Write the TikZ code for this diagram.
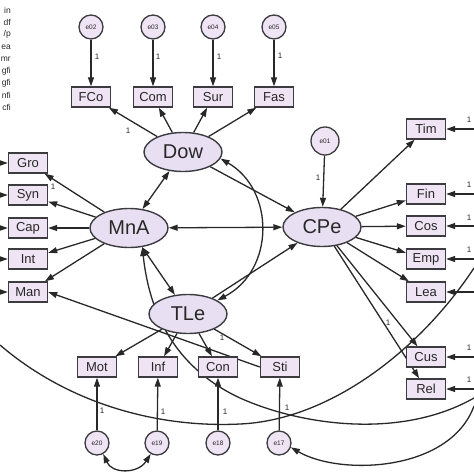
\documentclass[tikz,border=0pt]{standalone}
\usepackage{fontspec}
\setmainfont{Liberation Sans}
\usetikzlibrary{shapes.geometric,arrows.meta,backgrounds}
\definecolor{boxfill}{RGB}{238,228,244}
\definecolor{latfill}{RGB}{232,224,242}
\definecolor{edge}{RGB}{60,60,64}
\definecolor{ink}{RGB}{40,40,40}

\begin{document}
\begin{tikzpicture}[x=1pt, y=-1pt,
    obs/.style={rectangle,draw=edge,fill=boxfill,line width=1.4pt,minimum width=39pt,minimum height=20pt,inner sep=0pt,font=\fontsize{13}{13}\selectfont,text=ink},
    lat/.style={ellipse,draw=edge,fill=latfill,line width=1.4pt,minimum width=78pt,minimum height=39pt,inner sep=0pt,font=\fontsize{20}{20}\selectfont,text=ink},
    err/.style={circle,draw=edge,fill=boxfill,line width=1.3pt,minimum size=24pt,inner sep=0pt,font=\fontsize{6.5}{6.5}\selectfont,text=ink},
    reg/.style={draw=ink,line width=1.3pt,-{Triangle[length=9pt,width=6pt]}},
    cov/.style={draw=ink,line width=1.3pt,{Triangle[length=9pt,width=6pt]}-{Triangle[length=9pt,width=6pt]}},
    one/.style={font=\fontsize{8}{8}\selectfont,text=ink,inner sep=0pt},
    fit/.style={font=\fontsize{8.5}{8.5}\selectfont,text=ink,inner sep=0pt,anchor=east},
]
        \useasboundingbox (0,0) rectangle (474,474);

        % Fit indices, cut off at the left edge
        \node[fit] (f1) at (11,10) {in};
        \node[fit] (f2) at (11,22) {df};
        \node[fit] (f3) at (11,34) {/p};
        \node[fit] (f4) at (11,47) {ea};
        \node[fit] (f5) at (11,59) {mr};
        \node[fit] (f6) at (11,71) {gfi};
        \node[fit] (f7) at (11,83) {gfi};
        \node[fit] (f8) at (11,95) {nfi};
        \node[fit] (f9) at (11,107) {cfi};

        % Define the off-page ends
        \coordinate (inGro) at (0,163);
        \coordinate (inSyn) at (0,195);
        \coordinate (inCap) at (0,228);
        \coordinate (inInt) at (0,259);
        \coordinate (inMan) at (0,292);
        \coordinate (inTim) at (474,129);
        \coordinate (inFin) at (474,194);
        \coordinate (inCos) at (474,226);
        \coordinate (inEmp) at (474,259);
        \coordinate (inLea) at (474,292);
        \coordinate (inCus) at (474,357);
        \coordinate (inRel) at (474,389);
        \coordinate (offL) at (0,345);
        \coordinate (offR1) at (474,268);
        \coordinate (offR2) at (474,398);
        \coordinate (offR3) at (474,406);
        \coordinate (midA) at (240,424);
        \coordinate (midB) at (240,398);

        % Latent variables
        \node[lat] (Dow) at (183,152) {Dow};
        \node[lat] (MnA) at (129,228) {MnA};
        \node[lat] (CPe) at (322,227) {CPe};
        \node[lat] (TLe) at (188,314) {TLe};

        % Observed variables
        \node[obs] (FCo) at (91,97) {FCo};
        \node[obs] (Com) at (153,97) {Com};
        \node[obs] (Sur) at (213,97) {Sur};
        \node[obs] (Fas) at (274,97) {Fas};

        \node[obs] (Gro) at (28,163) {Gro};
        \node[obs] (Syn) at (28,195) {Syn};
        \node[obs] (Cap) at (28,228) {Cap};
        \node[obs] (Int) at (28,259) {Int};
        \node[obs] (Man) at (28,292) {Man};

        \node[obs] (Tim) at (426,129) {Tim};
        \node[obs] (Fin) at (426,194) {Fin};
        \node[obs] (Cos) at (426,226) {Cos};
        \node[obs] (Emp) at (426,259) {Emp};
        \node[obs] (Lea) at (426,292) {Lea};
        \node[obs] (Cus) at (426,357) {Cus};
        \node[obs] (Rel) at (426,389) {Rel};

        \node[obs] (Mot) at (97,367) {Mot};
        \node[obs] (Inf) at (158,367) {Inf};
        \node[obs] (Con) at (218,367) {Con};
        \node[obs] (Sti) at (280,367) {Sti};

        % Error terms
        \node[err] (e02) at (91,27) {e02};
        \node[err] (e03) at (153,27) {e03};
        \node[err] (e04) at (213,27) {e04};
        \node[err] (e05) at (274,27) {e05};
        \node[err, minimum size=28pt] (e01) at (325,141) {e01};
        \node[err] (e20) at (97,443) {e20};
        \node[err] (e19) at (157,443) {e19};
        \node[err] (e18) at (218,443) {e18};
        \node[err] (e17) at (279,443) {e17};

        \begin{pgfonlayer}{background}
        % Long curves running off the page
        \draw[draw=ink, line width=1.3pt] (offL) .. controls (70,405) and (160,428) .. (midA) .. controls (330,420) and (420,350) .. (offR1);
        \draw[reg] (offR2) .. controls (400,440) and (300,425) .. (midB) .. controls (180,370) and (150,320) .. (MnA.-55);
        \draw[reg] (offR3) .. controls (450,472) and (340,476) .. (e17.-20);
        \draw[reg] (Sti.west) -- (Man.east);

        % Error terms to indicators
        \draw[reg] (e02) -- (FCo);
        \draw[reg] (e03) -- (Com);
        \draw[reg] (e04) -- (Sur);
        \draw[reg] (e05) -- (Fas);
        \draw[reg] (e01) -- (CPe);
        \draw[reg] (e20) -- (Mot);
        \draw[reg] (e19) -- (Inf);
        \draw[reg] (e18) -- (Con);
        \draw[reg] (e17) -- (Sti);
        \draw[cov] (e20.-60) .. controls (112,474) and (138,474) .. (e19.-120);

        % Loadings
        \draw[reg] (Dow) -- (FCo);
        \draw[reg] (Dow) -- (Com);
        \draw[reg] (Dow) -- (Sur);
        \draw[reg] (Dow) -- (Fas);
        \draw[reg] (MnA) -- (Gro);
        \draw[reg] (MnA) -- (Syn);
        \draw[reg] (MnA) -- (Cap);
        \draw[reg] (MnA) -- (Int);
        \draw[reg] (MnA) -- (Man);
        \draw[reg] (CPe) -- (Tim);
        \draw[reg] (CPe) -- (Fin);
        \draw[reg] (CPe) -- (Cos);
        \draw[reg] (CPe) -- (Emp);
        \draw[reg] (CPe) -- (Lea);
        \draw[reg] (CPe) -- (Cus);
        \draw[reg] (CPe) -- (Rel);
        \draw[reg] (TLe) -- (Mot);
        \draw[reg] (TLe) -- (Inf);
        \draw[reg] (TLe) -- (Con);
        \draw[reg] (TLe) -- (Sti);

        % Structural paths
        \draw[cov] (Dow) -- (MnA);
        \draw[cov] (MnA) -- (CPe);
        \draw[cov] (MnA) -- (TLe);
        \draw[reg] (Dow) -- (CPe);
        \draw[reg] (TLe) -- (CPe);
        \draw[cov] (Dow.-10) .. controls (275,190) and (275,270) .. (TLe.25);

        % Stubs from the page edges
        \draw[reg] (inGro) -- (Gro);
        \draw[reg] (inSyn) -- (Syn);
        \draw[reg] (inCap) -- (Cap);
        \draw[reg] (inInt) -- (Int);
        \draw[reg] (inMan) -- (Man);
        \draw[reg] (inTim) -- (Tim);
        \draw[reg] (inFin) -- (Fin);
        \draw[reg] (inCos) -- (Cos);
        \draw[reg] (inEmp) -- (Emp);
        \draw[reg] (inLea) -- (Lea);
        \draw[reg] (inCus) -- (Cus);
        \draw[reg] (inRel) -- (Rel);
        \end{pgfonlayer}

        % Fixed weights
        \node[one] (w02) at (97,57) {1};
        \node[one] (w03) at (158,57) {1};
        \node[one] (w04) at (219,57) {1};
        \node[one] (w05) at (280,56) {1};
        \node[one] (wFCo) at (128,131) {1};
        \node[one] (wSyn) at (53,187) {1};
        \node[one] (w01) at (318,178) {1};
        \node[one] (wCon) at (222,338) {1};
        \node[one] (wCus) at (388,323) {1};
        \node[one] (w20) at (102,411) {1};
        \node[one] (w19) at (163,412) {1};
        \node[one] (w18) at (225,412) {1};
        \node[one] (w17) at (287,408) {1};
        \node[one] (wTim) at (469,120) {1};
        \node[one] (wFin) at (469,185) {1};
        \node[one] (wCos) at (469,218) {1};
        \node[one] (wEmp) at (469,250) {1};
        \node[one] (wCusR) at (469,348) {1};
        \node[one] (wRel) at (469,380) {1};

    \end{tikzpicture}
\end{document}
